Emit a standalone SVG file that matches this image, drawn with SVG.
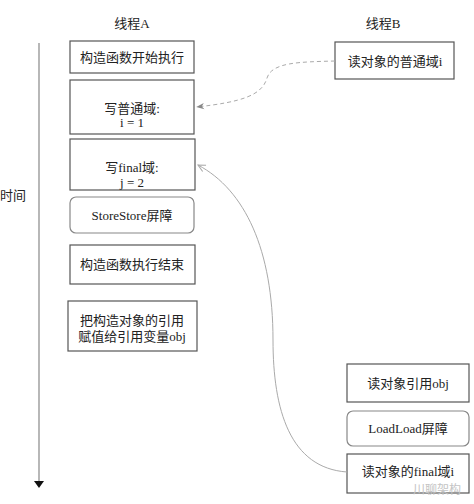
<svg xmlns="http://www.w3.org/2000/svg" width="474" height="504" viewBox="0 0 474 504">
<style>
.box{fill:#fff;stroke:#555;stroke-width:1.2}
.rbox{fill:#fff;stroke:#888;stroke-width:1.2}
text{font-family:"Liberation Serif","Noto Sans CJK SC",serif;font-size:13px;fill:#222;text-anchor:middle;dominant-baseline:central}
.conn{fill:none;stroke:#aaa;stroke-width:1}
</style>
<defs>
<marker id="ah" viewBox="0 0 10 10" refX="9" refY="5" markerWidth="8" markerHeight="8" orient="auto-start-reverse">
<path d="M0,1 L10,5 L0,9 L3,5 Z" fill="#888"/>
</marker>
<marker id="ao" viewBox="0 0 10 10" refX="9" refY="5" markerWidth="9" markerHeight="9" orient="auto">
<path d="M1,1 L9,5 L1,9" fill="none" stroke="#aaa" stroke-width="1.2"/>
</marker>
</defs>
<rect width="474" height="504" fill="#fff"/>
<text x="132" y="23">线程A</text>
<text x="383" y="23">线程B</text>
<g id="time">
<line x1="39" y1="43" x2="39" y2="481" stroke="#888" stroke-width="1.2"/>
<path d="M34,481 L44,481 L39,488 Z" fill="#111"/>
<text x="13" y="195">时间</text>
</g>
<g id="a1"><rect class="box" x="70" y="41" width="124" height="32"/><text x="132" y="57">构造函数开始执行</text></g>
<g id="a2"><rect class="box" x="70" y="80" width="124" height="54"/><text x="132" y="108">写普通域:</text><text x="132" y="122">i = 1</text></g>
<g id="a3"><rect class="box" x="70" y="139" width="125" height="51"/><text x="132" y="167">写final域:</text><text x="132" y="182">j = 2</text></g>
<g id="a4"><rect class="rbox" x="70" y="197" width="124" height="36" rx="6"/><text x="132" y="215">StoreStore屏障</text></g>
<g id="a5"><rect class="box" x="70" y="245" width="125" height="39"/><text x="132" y="264">构造函数执行结束</text></g>
<g id="a6"><rect class="box" x="68" y="301" width="129" height="50"/><text x="132" y="320">把构造对象的引用</text><text x="132" y="336">赋值给引用变量obj</text></g>
<g id="b1"><rect class="box" x="335" y="42" width="119" height="37"/><text x="395" y="61">读对象的普通域i</text></g>
<g id="b2"><rect class="box" x="347" y="364" width="122" height="38"/><text x="408" y="383">读对象引用obj</text></g>
<g id="b3"><rect class="rbox" x="347" y="411" width="122" height="35" rx="6"/><text x="408" y="428">LoadLoad屏障</text></g>
<g id="b4"><rect class="box" x="347" y="454" width="122" height="39"/><text x="408" y="471">读对象的final域i</text></g>
<g id="connectors">
<path class="conn" d="M335,61 C300,62 272,62 267,78 C262,96 240,102 197,107" stroke-dasharray="4,3" stroke="#999" marker-end="url(#ah)"/>
<path class="conn" d="M347,472 C290,468 273,410 273,340 C273,250 245,190 198,165" marker-end="url(#ao)"/>
</g>
<text x="437" y="488" style="fill:#c4c4c4;font-family:'Noto Sans CJK SC',sans-serif;font-size:12px">川聊架构</text>
</svg>
